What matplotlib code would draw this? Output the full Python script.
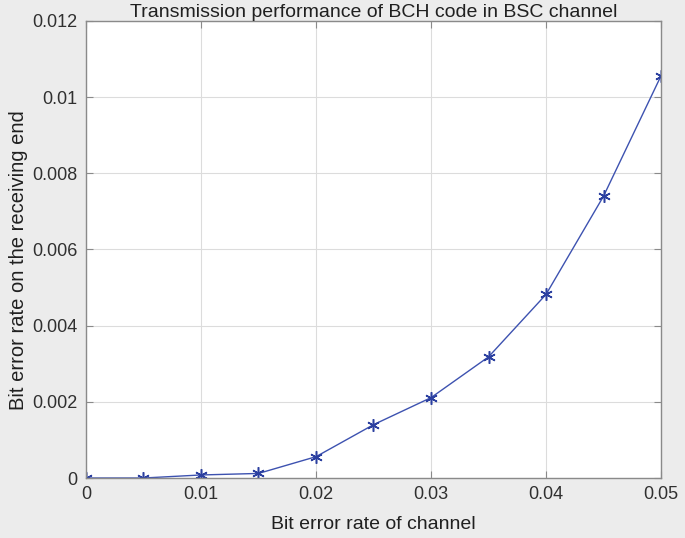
import matplotlib
matplotlib.use("Agg")
import matplotlib.pyplot as plt

x_vals = [0, 0.005, 0.01, 0.015, 0.02, 0.025, 0.03, 0.035, 0.04, 0.045, 0.05]
y_vals = [0.0, 0.0, 0.00008, 0.00012, 0.00056, 0.0014, 0.00211, 0.00318, 0.00482, 0.0074, 0.01056]
x_ticks = [0, 0.01, 0.02, 0.03, 0.04, 0.05]
x_ticklabels = ["0", "0.01", "0.02", "0.03", "0.04", "0.05"]
y_ticks = [0, 0.002, 0.004, 0.006, 0.008, 0.01, 0.012]
y_ticklabels = ["0", "0.002", "0.004", "0.006", "0.008", "0.01", "0.012"]

plt.rcParams['font.family'] = ['Liberation Sans', 'DejaVu Sans']

fig = plt.figure(figsize=(6.85, 5.38), dpi=100, facecolor='#ececec')
ax = fig.add_axes([0.1255, 0.1115, 0.8395, 0.8495])
ax.set_facecolor('white')
ax.plot(x_vals, y_vals, color='#3d52b0', linewidth=1.0, marker=(6, 2, 0), markersize=9,
        markeredgewidth=1.1, markeredgecolor='#2c40a0')
ax.set_xlim(0, 0.05)
ax.set_ylim(0, 0.012)
ax.set_xticks(x_ticks)
ax.set_xticklabels(x_ticklabels)
ax.set_yticks(y_ticks)
ax.set_yticklabels(y_ticklabels)
ax.grid(True, color='#dcdcdc', linewidth=0.8)
ax.set_axisbelow(True)
for s in ax.spines.values():
    s.set_color('#8a8a8a')
    s.set_linewidth(1.0)
ax.tick_params(direction='in', top=True, right=True, length=5, color='#8a8a8a',
               labelsize=13, labelcolor='#303030', pad=6)
ax.set_title('Transmission performance of BCH code in BSC channel', fontsize=14,
             color='#202020', pad=3)
ax.set_xlabel('Bit error rate of channel', fontsize=14, color='#202020', labelpad=9)
ax.set_ylabel('Bit error rate on the receiving end', fontsize=14.5, color='#202020')
ax.yaxis.set_label_coords(-0.1, 0.477)

fig.savefig('out.png', dpi=100, facecolor=fig.get_facecolor())
